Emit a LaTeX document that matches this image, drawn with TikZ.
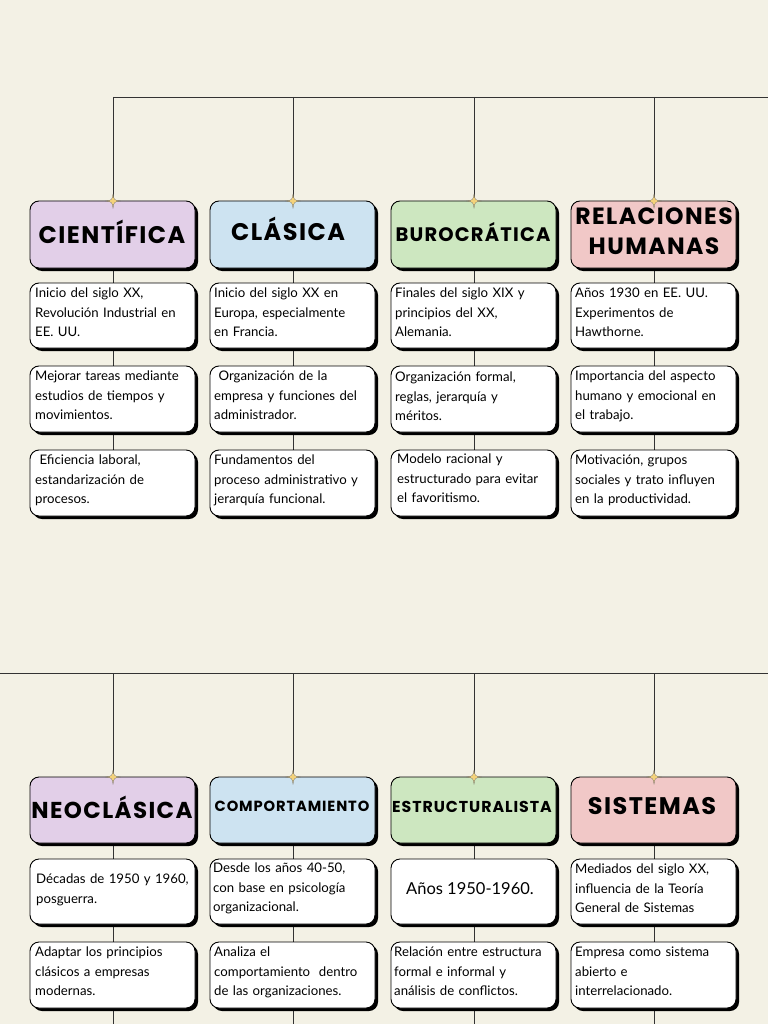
\documentclass[tikz,border=0pt]{standalone}
\usepackage{fontspec}
\setmainfont{Lato}
\newfontfamily\hfont[LetterSpace=6,UprightFont=* Bold]{Poppins}
\definecolor{bg}{HTML}{F3F1E5}
\definecolor{cpur}{HTML}{E2CFE8}
\definecolor{cblu}{HTML}{CDE3F1}
\definecolor{cgrn}{HTML}{CDE7C0}
\definecolor{cpnk}{HTML}{F1C8C7}
\definecolor{star}{HTML}{F4D27A}
\tikzset{
 box/.style={draw=black,line width=0.9pt,rounded corners=9pt},
 shadowbox/.style={fill=black,rounded corners=9pt},
 ln/.style={line width=0.6pt,draw=black!80},
 btxt/.style={anchor=north west,text width=165pt,align=left,inner sep=0pt,font=\fontsize{13.2}{19.5}\selectfont},
 htxt/.style={font=\hfont\fontsize{24}{30}\selectfont,align=center,inner sep=0pt}
}
\newcommand{\mybox}[5]{% x y w h fill
 \fill[shadowbox] (#1+3,#2+3) rectangle (#1+#3+3,#2+#4+3);
 \filldraw[box,fill=#5] (#1,#2) rectangle (#1+#3,#2+#4);}
\newcommand{\mystar}[2]{\filldraw[fill=star,draw=black!60,line width=0.3pt] (#1,#2-7) .. controls (#1+1,#2-1) .. (#1+7,#2) .. controls (#1+1,#2+1) .. (#1,#2+7) .. controls (#1-1,#2+1) .. (#1-7,#2) .. controls (#1-1,#2-1) .. (#1,#2-7);}
\begin{document}
\begin{tikzpicture}[x=1pt,y=-1pt]
\fill[bg] (0,0) rectangle (768,1024);
\useasboundingbox (0,0) rectangle (768,1024);
\draw[ln] (113,97) -- (768,97);
\foreach \cx in {113,293,474,654} {\draw[ln] (\cx,97) -- (\cx,500);}
\draw[ln] (0,673) -- (768,673);
\foreach \cx in {113,293,474,654} {\draw[ln] (\cx,673) -- (\cx,1024);}
\foreach \x/\c in {30/cpur,210/cblu,391/cgrn,571/cpnk} {
 \mybox{\x}{201}{165}{67}{\c}
 \mybox{\x}{283}{165}{65}{white}
 \mybox{\x}{366}{165}{66}{white}
 \mybox{\x}{450}{165}{66}{white}
 \mybox{\x}{777}{165}{66}{\c}
 \mybox{\x}{859}{165}{65}{white}
 \mybox{\x}{942}{165}{66}{white}
 \mystar{\x+83}{201}
 \mystar{\x+83}{777}
}
\node[htxt] (h1) at (112,232) {CIENTÍFICA};
\node[htxt] (h2) at (288,229) {CLÁSICA};
\node[htxt,font=\hfont\fontsize{19.5}{20}\selectfont] (h3) at (473,232) {BUROCRÁTICA};
\node[htxt,font=\hfont\fontsize{23.5}{30}\selectfont] (h4) at (654,231) {RELACIONES\\HUMANAS};
\node[htxt,font=\hfont\fontsize{23}{30}\selectfont] (h5) at (112,807) {NEOCLÁSICA};
\node[htxt,font=\hfont\fontsize{14.7}{16}\selectfont] (h6) at (292,806) {COMPORTAMIENTO};
\node[htxt,font=\hfont\fontsize{15.8}{16}\selectfont] (h7) at (472,807) {ESTRUCTURALISTA};
\node[htxt] (h8) at (652,806) {SISTEMAS};
\node[btxt] (a1) at (35,288) {Inicio del siglo XX,\\Revolución Industrial en\\EE. UU.};
\node[btxt] (a2) at (35,371) {Mejorar tareas mediante\\estudios de tiempos y\\movimientos.};
\node[btxt] (a3) at (35,455) {\ Eficiencia laboral,\\estandarización de\\procesos.};
\node[btxt] (b1) at (214,288) {Inicio del siglo XX en\\Europa, especialmente\\en Francia.};
\node[btxt] (b2) at (214,371) {\ Organización de la\\empresa y funciones del\\administrador.};
\node[btxt] (b3) at (214,455) {Fundamentos del\\proceso administrativo y\\jerarquía funcional.};
\node[btxt] (c1) at (395,288) {Finales del siglo XIX y\\principios del XX,\\Alemania.};
\node[btxt] (c2) at (395,372) {Organización formal,\\reglas, jerarquía y\\méritos.};
\node[btxt] (c3) at (397,454) {Modelo racional y\\estructurado para evitar\\el favoritismo.};
\node[btxt] (d1) at (575,288) {Años 1930 en EE. UU.\\Experimentos de\\Hawthorne.};
\node[btxt] (d2) at (575,371) {Importancia del aspecto\\humano y emocional en\\el trabajo.};
\node[btxt] (d3) at (575,455) {Motivación, grupos\\sociales y trato influyen\\en la productividad.};
\node[btxt] (e1) at (36,874) {Décadas de 1950 y 1960,\\posguerra.};
\node[btxt] (e2) at (35,947) {Adaptar los principios\\clásicos a empresas\\modernas.};
\node[btxt] (f1) at (213,863) {Desde los años 40-50,\\con base en psicología\\organizacional.};
\node[btxt] (f2) at (214,947) {Analiza el\\comportamiento\ \ dentro\\de las organizaciones.};
\node[font=\fontsize{16.5}{20}\selectfont,inner sep=0pt] (g1) at (470,889) {Años 1950-1960.};
\node[btxt] (g2) at (394,947) {Relación entre estructura\\formal e informal y\\análisis de conflictos.};
\node[btxt] (k1) at (575,864) {Mediados del siglo XX,\\influencia de la Teoría\\General de Sistemas};
\node[btxt] (k2) at (575,947) {Empresa como sistema\\abierto e\\interrelacionado.};
\end{tikzpicture}
\end{document}
